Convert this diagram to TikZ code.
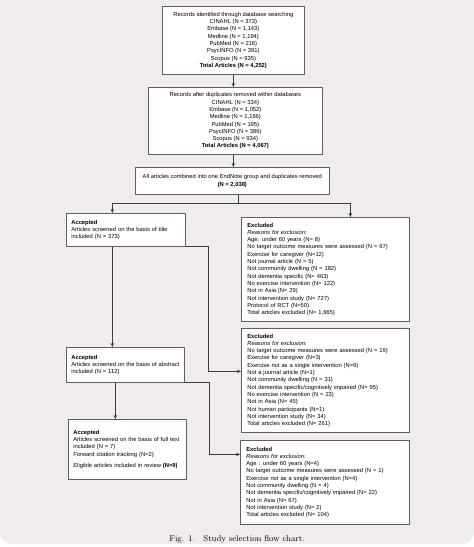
\documentclass[tikz,border=0pt]{standalone}
\usepackage{fontspec}
\newfontfamily\chartfont{Liberation Sans}
\usetikzlibrary{arrows.meta, calc}
\definecolor{panelGray}{RGB}{239,236,235}
\definecolor{boxLine}{RGB}{95,95,95}
\definecolor{connLine}{RGB}{60,60,60}
\tikzstyle{searchBox}   = [rectangle,
                           anchor=north west,
                           inner sep=0pt,
                           align=center,
                           draw=boxLine,
                           line width=0.7pt,
                           fill=white,
                           font=\chartfont\fontsize{5.8}{7.3}\selectfont]
\tikzstyle{acceptBox}   = [rectangle,
                           anchor=north west,
                           inner xsep=5pt,
                           inner ysep=0pt,
                           align=left,
                           draw=boxLine,
                           line width=0.7pt,
                           fill=white,
                           font=\chartfont\fontsize{5.8}{7.3}\selectfont]
\tikzstyle{excludeBox}  = [rectangle,
                           anchor=north west,
                           inner xsep=6pt,
                           inner ysep=0pt,
                           align=left,
                           draw=boxLine,
                           line width=0.7pt,
                           fill=white,
                           font=\chartfont\fontsize{5.8}{7.3}\selectfont]
\tikzstyle{line}        = [draw=connLine, line width=0.8pt]
\tikzstyle{arrow}       = [draw=connLine, line width=0.8pt,
                           -{Stealth[length=4pt, width=3.5pt]}]

\begin{document}
\begin{tikzpicture}[x=1pt, y=-1pt]
        \useasboundingbox (0,0) rectangle (474,547);
        \clip (0,0) rectangle (474,547);
        \fill [white] (0,0) rectangle (474,547);
        \fill [panelGray, rounded corners=12pt] (0,-20) rectangle (474,544);

        \node [searchBox, minimum width=142pt, minimum height=68pt] (records) at (162,6) {
            Records identified through database searching \\
            CINAHL (N = 373) \\ Embase (N = 1,143) \\ Medline (N = 1,194) \\
            PubMed (N = 216) \\ PsycINFO (N = 391) \\ Scopus (N = 935) \\
            \textbf{Total Articles (N = 4,252)}
            };
        \node [searchBox, minimum width=174pt, minimum height=67pt] (removed)
            at ([shift={(-14,81)}] records.north west) {
            Records after duplicates removed within databases \\
            CINAHL (N = 334) \\ Embase (N = 1,052) \\ Medline (N = 1,166) \\
            PubMed (N = 195) \\ PsycINFO (N = 386) \\ Scopus (N = 934) \\
            \textbf{Total Articles (N = 4,067)}
            };
        \node [searchBox, minimum width=194pt, minimum height=27pt] (combined)
            at ([shift={(-27,161)}] records.north west) {
            All articles combined into one EndNote group and duplicates removed \\
            \textbf{(N = 2,038)}
            };

        \node [acceptBox, text width=109pt, minimum height=33pt] (titleScreen)
            at ([shift={(-96,207)}] records.north west) {
            \textbf{Accepted} \\
            Articles screened on the basis of title \\
            included (N = 373)
            };
        \node [excludeBox, text width=156pt, minimum height=104pt] (titleExcl)
            at ([shift={(79,211)}] records.north west) {
            \textbf{Excluded} \\
            \textit{Reasons for exclusion:} \\
            Age: under 60 years (N= 8) \\
            No target outcome measures were assessed (N = 67) \\
            Exercise for caregiver (N=12) \\
            Not journal article (N = 5) \\
            Not community dwelling (N = 182) \\
            Not dementia specific (N= 463) \\
            No exercise intervention (N= 122) \\
            Not in Asia (N= 29) \\
            Not intervention study (N= 727) \\
            Protocol of RCT (N=50) \\
            Total articles excluded (N= 1,665)
            };
        \node [excludeBox, text width=156pt, minimum height=104pt] (abstractExcl)
            at ([shift={(79,322)}] records.north west) {
            \textbf{Excluded} \\
            \textit{Reasons for exclusion:} \\
            No target outcome measures were assessed (N = 19) \\
            Exercise for caregiver (N=3) \\
            Exercise not as a single intervention (N=9) \\
            Not a journal article (N=1) \\
            Not community dwelling (N = 31) \\
            Not dementia specific/cognitively impaired (N= 95) \\
            No exercise intervention (N = 23) \\
            Not in Asia (N= 45) \\
            Not human participants (N=1) \\
            Not intervention study (N= 34) \\
            Total articles excluded (N= 261)
            };
        \node [acceptBox, text width=108pt, minimum height=35pt] (abstractScreen)
            at ([shift={(-96,341)}] records.north west) {
            \textbf{Accepted} \\
            Articles screened on the basis of abstract \\
            included (N = 112)
            };
        \node [acceptBox, text width=108pt, minimum height=60pt] (fullText)
            at ([shift={(-94,413)}] records.north west) {
            \textbf{Accepted} \\
            Articles screened on the basis of full text \\
            included (N = 7) \\
            Forward citation tracking (N=2) \\[4pt]
            Eligible articles included in review \textbf{(N=9)} \\[4pt]
            };
        \node [excludeBox, text width=157pt, minimum height=84pt] (fullTextExcl)
            at ([shift={(78,434)}] records.north west) {
            \textbf{Excluded} \\
            \textit{Reasons for exclusion:} \\
            Age : under 60 years (N=4) \\
            No target outcome measures were assessed (N = 1) \\
            Exercise not as a single intervention (N=4) \\
            Not community dwelling (N = 4) \\
            Not dementia specific/cognitively impaired (N= 22) \\
            Not in Asia (N= 67) \\
            Not intervention study (N= 2) \\
            Total articles excluded (N= 104)
            };

        \node [font=\fontsize{8.5}{10}\selectfont] (caption) at (237,539)
            {Fig. 1.\quad Study selection flow chart.};

        \draw [arrow] (records.south) -- (records.south |- removed.north);
        \draw [arrow] (removed.south -| records.south) -- (combined.north -| records.south);

        \draw [line] ([xshift=6pt]combined.south) -- ++(0,9) coordinate (split);
        \draw [arrow] (split) -| ([xshift=-13.5pt]titleScreen.north);
        \draw [arrow] (split) -| ([xshift=25pt]titleExcl.north);

        \draw [arrow] ([xshift=-13.5pt]titleScreen.south) -- ([xshift=-13pt]abstractScreen.north);
        \draw [arrow] (titleScreen.south east) -- ++(23,0) |- ([yshift=9pt]abstractExcl.west);

        \draw [arrow] ([xshift=-10pt]abstractScreen.south) -- ([xshift=-12pt]fullText.north);
        \draw [arrow] (abstractScreen.south east) -- ++(25,0) |- ([yshift=28pt]fullTextExcl.west);

    \end{tikzpicture}
\end{document}
